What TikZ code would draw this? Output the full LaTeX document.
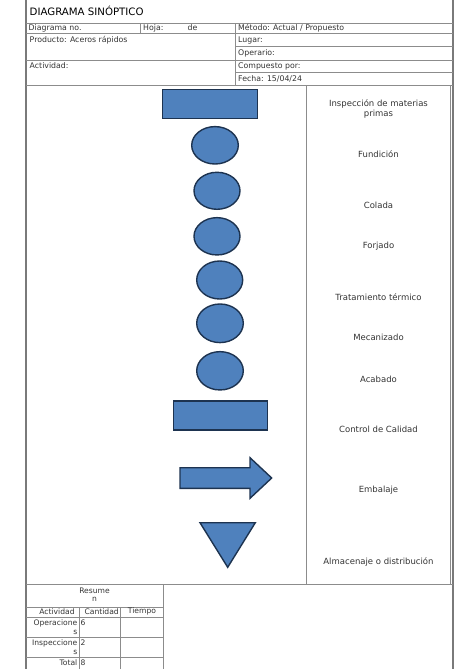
\documentclass[tikz,border=0pt]{standalone}
\usepackage{fontspec}
\setmainfont{DejaVu Sans}
\usetikzlibrary{shapes.geometric}
\definecolor{shapefill}{HTML}{4F81BD}
\definecolor{shapeline}{HTML}{1D3350}
\definecolor{gridc}{HTML}{8C8C8C}
\definecolor{borderc}{HTML}{7A7A7A}
\definecolor{txtc}{HTML}{333333}
\tikzset{
  grid/.style={draw=gridc, line width=0.8pt},
  border/.style={draw=borderc, line width=1.1pt},
  symb/.style={fill=shapefill, draw=shapeline, line width=1.4pt},
  hdr/.style={anchor=west, inner sep=0pt, text=txtc, font=\fontsize{7.8}{9}\selectfont},
  lbl/.style={inner sep=0pt, text=txtc, align=center, font=\fontsize{8.5}{10}\selectfont},
  sumt/.style={inner sep=0pt, text=txtc, font=\fontsize{7.6}{9}\selectfont},
}
\begin{document}
\begin{tikzpicture}[x=1pt,y=-1pt]
\useasboundingbox (0,0) rectangle (474,669);
% outer borders
\draw[border] (26,0) -- (26,669);
\draw[border] (453,0) -- (453,669);
% header grid
\draw[grid] (26,23.3) -- (453,23.3);
\draw[grid] (26,33.3) -- (453,33.3);
\draw[grid] (235.7,46.7) -- (453,46.7);
\draw[grid] (26,60) -- (453,60);
\draw[grid] (235.7,72.7) -- (453,72.7);
\draw[grid] (26,85) -- (453,85);
\draw[grid] (140,23.3) -- (140,33.3);
\draw[grid] (235.7,23.3) -- (235.7,85);
% main area
\draw[grid] (450.7,85) -- (450.7,584);
\draw[grid] (26,584) -- (453,584);
\draw[grid] (306,85) -- (306,584);
% summary table
\draw[grid] (163,584) -- (163,669);
\draw[grid] (26,607.7) -- (163,607.7);
\draw[grid] (26,617.3) -- (163,617.3);
\draw[grid] (26,637.3) -- (163,637.3);
\draw[grid] (26,657.3) -- (163,657.3);
\draw[grid] (79.3,607.7) -- (79.3,669);
\draw[grid] (120.7,607.7) -- (120.7,669);

% title and header texts
\node[anchor=west, inner sep=0pt, font=\fontsize{10.2}{12}\selectfont] (title) at (29.5,11) {DIAGRAMA SINÓPTICO};
\node[hdr] (dno) at (28.5,28) {Diagrama no.};
\node[hdr] (hoja) at (143,28) {Hoja:};
\node[hdr] (de) at (187.5,28) {de};
\node[hdr] (met) at (238,28) {Método: Actual / Propuesto};
\node[hdr] (prod) at (29.5,40) {Producto: Aceros rápidos};
\node[hdr] (lug) at (238,40) {Lugar:};
\node[hdr] (ope) at (238,53) {Operario:};
\node[hdr] (act) at (29.5,66) {Actividad:};
\node[hdr] (comp) at (238,66) {Compuesto por:};
\node[hdr] (fecha) at (238,79) {Fecha: 15/04/24};

% symbols
\node[symb, rectangle, minimum width=94.6pt, minimum height=29pt, inner sep=0pt] (r1) at (210,103.8) {};
\node[symb, ellipse, minimum width=46.6pt, minimum height=37.4pt, inner sep=0pt] (e1) at (215,145.3) {};
\node[symb, ellipse, minimum width=46pt, minimum height=37pt, inner sep=0pt] (e2) at (217,190.8) {};
\node[symb, ellipse, minimum width=46pt, minimum height=37.3pt, inner sep=0pt] (e3) at (217,236.3) {};
\node[symb, ellipse, minimum width=46pt, minimum height=38pt, inner sep=0pt] (e4) at (219.7,280) {};
\node[symb, ellipse, minimum width=46.6pt, minimum height=38.6pt, inner sep=0pt] (e5) at (220,323.3) {};
\node[symb, ellipse, minimum width=46.6pt, minimum height=38.3pt, inner sep=0pt] (e6) at (220,370.8) {};
\node[symb, rectangle, minimum width=94.4pt, minimum height=29pt, inner sep=0pt] (r2) at (220.5,415.5) {};
\draw[symb] (180,467.7) -- (250,467.7) -- (250,457.7) -- (271.7,478) -- (250,498.3) -- (250,488.3) -- (180,488.3) -- cycle;
\draw[symb] (200,522.7) -- (255.3,522.7) -- (227.7,567.3) -- cycle;

% labels
\node[lbl] (l1) at (378.5,109) {Inspección de materias\\primas};
\node[lbl] (l2) at (378.5,154.5) {Fundición};
\node[lbl] (l3) at (378.5,205.5) {Colada};
\node[lbl] (l4) at (378.5,246) {Forjado};
\node[lbl] (l5) at (378.5,297) {Tratamiento térmico};
\node[lbl] (l6) at (378.5,337.5) {Mecanizado};
\node[lbl] (l7) at (378.5,379) {Acabado};
\node[lbl] (l8) at (378.5,429.5) {Control de Calidad};
\node[lbl] (l9) at (378.5,490.5) {Embalaje};
\node[lbl] (l10) at (378.5,561.5) {Almacenaje o distribución};

% summary texts
\node[sumt] (res1) at (94.5,590.5) {Resume};
\node[sumt] (res2) at (94.5,599.5) {n};
\node[sumt] (hact) at (57,611.5) {Actividad};
\node[sumt] (hcan) at (101.7,611.5) {Cantidad};
\node[sumt] (htie) at (142,611.5) {Tiempo};
\node[sumt, anchor=east] (op1) at (77.5,623) {Operacione};
\node[sumt, anchor=east] (op2) at (77.5,632) {s};
\node[sumt, anchor=west] (op3) at (80.5,623) {6};
\node[sumt, anchor=east] (in1) at (77.5,643) {Inspeccione};
\node[sumt, anchor=east] (in2) at (77.5,652) {s};
\node[sumt, anchor=west] (in3) at (80.5,643) {2};
\node[sumt, anchor=east] (tot) at (77.5,662.5) {Total};
\node[sumt, anchor=west] (tot3) at (80.5,662.5) {8};
\end{tikzpicture}
\end{document}
